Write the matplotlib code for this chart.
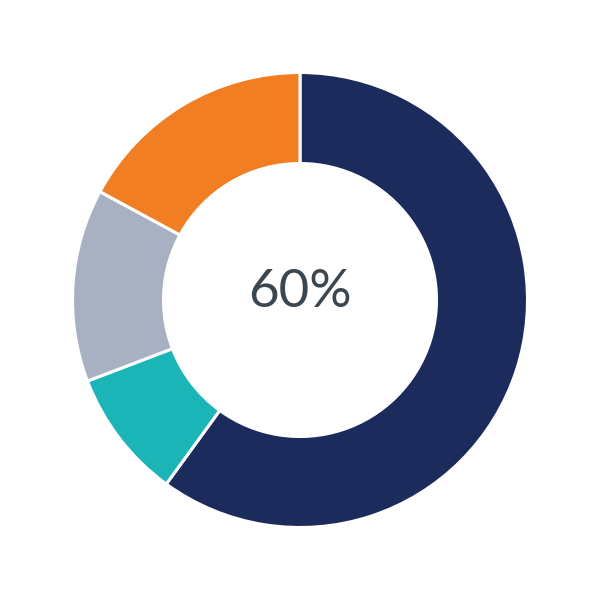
import matplotlib
matplotlib.use('Agg')
import matplotlib.pyplot as plt

# доли сегментов (по часовой стрелке от верха)
labels = ['A', 'B', 'C', 'D']
values = [60, 9.2, 13.7, 17.1]
colors = ['#1b2b5b', '#1cb5b7', '#a7b1c2', '#f17e22']
center_text = '60%'

fig = plt.figure(figsize=(6, 6), dpi=100)
ax = fig.add_axes([0, 0, 1, 1])

ax.pie(values, colors=colors, startangle=90, counterclock=False,
       radius=1.0,
       wedgeprops=dict(width=0.4, edgecolor='white', linewidth=2.2))

ax.text(0, -0.031, center_text, ha='center', va='baseline',
        fontsize=38, fontweight='normal', family=['Lato', 'DejaVu Sans'],
        color='#3a4650')

lim = 300 / 227.5
ax.set_xlim(-lim, lim)
ax.set_ylim(-lim, lim)
ax.set_aspect('equal')
ax.axis('off')

fig.savefig('out.png', dpi=100, facecolor='white')
